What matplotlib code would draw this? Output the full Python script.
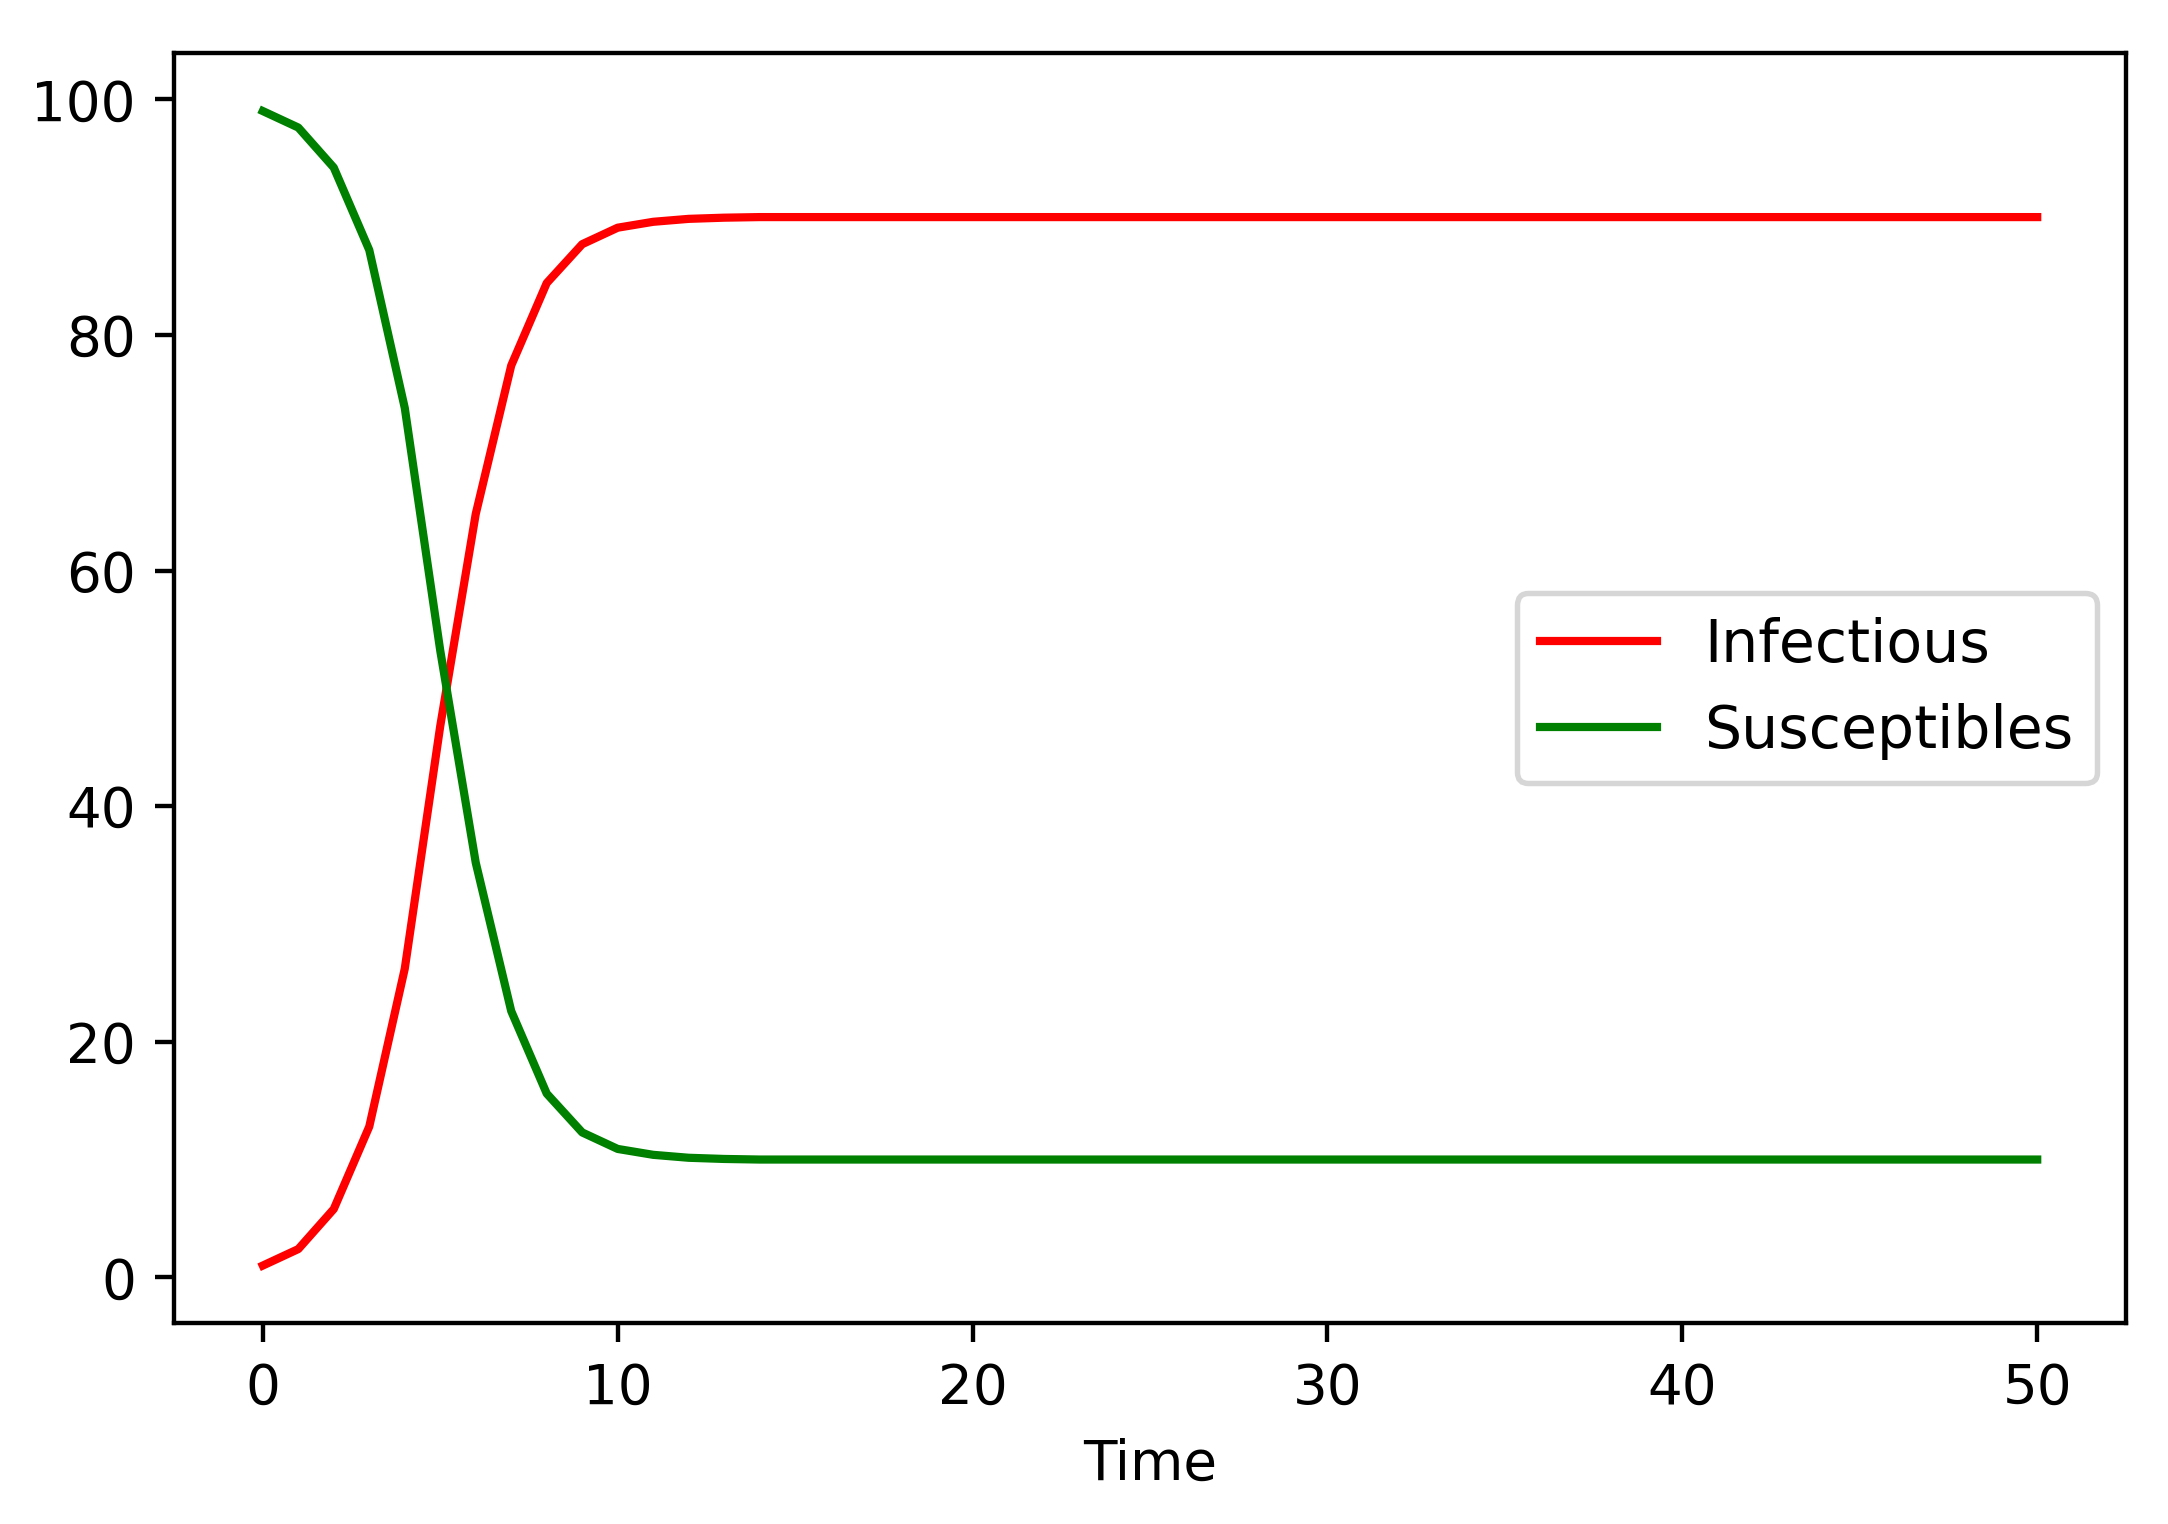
import matplotlib
matplotlib.use("Agg")
import matplotlib.pyplot as plt

# time steps 0..50
time = list(range(51))

infectious = [1.0, 2.4, 5.8, 12.8, 26.2, 46.8, 64.8, 77.4, 84.4, 87.7,
              89.1, 89.6, 89.85, 89.95, 90.0, 90.0, 90.0, 90.0, 90.0, 90.0,
              90.0, 90.0, 90.0, 90.0, 90.0, 90.0, 90.0, 90.0, 90.0, 90.0,
              90.0, 90.0, 90.0, 90.0, 90.0, 90.0, 90.0, 90.0, 90.0, 90.0,
              90.0, 90.0, 90.0, 90.0, 90.0, 90.0, 90.0, 90.0, 90.0, 90.0,
              90.0]

susceptibles = [99.0, 97.6, 94.2, 87.2, 73.8, 53.2, 35.2, 22.6, 15.6, 12.3,
                10.9, 10.4, 10.15, 10.05, 10.0, 10.0, 10.0, 10.0, 10.0, 10.0,
                10.0, 10.0, 10.0, 10.0, 10.0, 10.0, 10.0, 10.0, 10.0, 10.0,
                10.0, 10.0, 10.0, 10.0, 10.0, 10.0, 10.0, 10.0, 10.0, 10.0,
                10.0, 10.0, 10.0, 10.0, 10.0, 10.0, 10.0, 10.0, 10.0, 10.0,
                10.0]

DPI = 394
fig = plt.figure(figsize=(2168 / DPI, 1524 / DPI), dpi=DPI)
ax = fig.add_axes([0.0803, 0.1317, 0.9003, 0.8333])

ax.plot(time, infectious, color="red", label="Infectious")
ax.plot(time, susceptibles, color="green", label="Susceptibles")
ax.set_xlabel("Time")
ax.legend(loc="center right", fontsize=10.7)

fig.savefig("out.png", dpi=DPI)
